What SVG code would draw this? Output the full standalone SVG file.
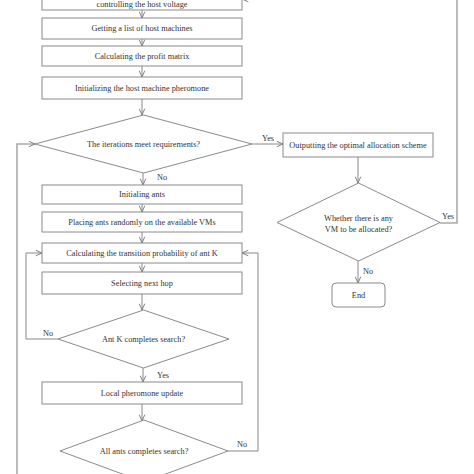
<svg xmlns="http://www.w3.org/2000/svg" width="474" height="474" viewBox="0 0 474 474">
<defs>
<marker id="arr" viewBox="0 0 10 10" refX="10" refY="5" markerWidth="7" markerHeight="7" markerUnits="userSpaceOnUse" orient="auto">
<path d="M1,1 L10,5 L1,9" fill="none" stroke="#777" stroke-width="1.3"/>
</marker>
</defs>
<style>
.box{fill:#fff;stroke:#8a8a8a;stroke-width:1}
.dia{fill:#fff;stroke:#8a8a8a;stroke-width:1}
.t{font-family:"Liberation Serif","Times New Roman",serif;font-size:8.3px;fill:#333;text-anchor:middle;dominant-baseline:central}
.lbl{font-family:"Liberation Serif","Times New Roman",serif;font-size:8.3px;fill:#333;dominant-baseline:central}
.c{fill:none;stroke:#888;stroke-width:1;marker-end:url(#arr)}
.loop{fill:none;stroke:#aaa;stroke-width:1.6}
</style>
<rect width="474" height="474" fill="#fff"/>
<g id="connectors">
<path class="loop" d="M440,223 H457 V-1 H250"/>
<path class="c" d="M250,-1 H242"/>
<path class="c" d="M142,10 V18"/>
<path class="c" d="M142,39 V46"/>
<path class="c" d="M142,66 V77"/>
<path class="c" d="M142,99 V115"/>
<path class="c" d="M252,144 H283"/>
<path class="c" d="M143,173 V185"/>
<path class="c" d="M142,204 V212"/>
<path class="c" d="M142,232 V243"/>
<path class="c" d="M142,263 V272"/>
<path class="c" d="M142,294 V310"/>
<path class="c" d="M58,339 H26 V253 H42"/>
<path class="c" d="M143,368 V382"/>
<path class="c" d="M142,404 V421"/>
<path class="c" d="M228,451 H258 V253 H242"/>
<path class="loop" d="M17,480 V144 H28"/>
<path class="c" d="M28,144 H35"/>
<path class="c" d="M358,157 V183"/>
<path class="c" d="M358,261 V283"/>
<text class="lbl" x="262" y="138">Yes</text>
<text class="lbl" x="157" y="177">No</text>
<text class="lbl" x="43" y="333">No</text>
<text class="lbl" x="157" y="375">Yes</text>
<text class="lbl" x="237" y="444">No</text>
<text class="lbl" x="442" y="216">Yes</text>
<text class="lbl" x="363" y="271">No</text>
</g>
<g id="n1"><rect class="box" x="42" y="-20" width="200" height="30"/><text class="t" x="142" y="4">controlling the host voltage</text></g>
<g id="n2"><rect class="box" x="42" y="18" width="200" height="21"/><text class="t" x="142" y="28.5">Getting a list of host machines</text></g>
<g id="n3"><rect class="box" x="42" y="46" width="200" height="20"/><text class="t" x="142" y="56">Calculating the profit matrix</text></g>
<g id="n4"><rect class="box" x="42" y="77" width="200" height="22"/><text class="t" x="142" y="88">Initializing the host machine pheromone</text></g>
<g id="d1"><polygon class="dia" points="143.5,115 252,144 143.5,173 35,144"/><text class="t" x="143.5" y="144">The iterations meet requirements?</text></g>
<g id="n5"><rect class="box" x="42" y="185" width="200" height="19"/><text class="t" x="142" y="194.5">Initialing ants</text></g>
<g id="n6"><rect class="box" x="42" y="212" width="200" height="20"/><text class="t" x="142" y="222">Placing ants randomly on the available VMs</text></g>
<g id="n7"><rect class="box" x="42" y="243" width="200" height="20"/><text class="t" x="142" y="253">Calculating the transition probability of ant K</text></g>
<g id="n8"><rect class="box" x="42" y="272" width="200" height="22"/><text class="t" x="142" y="283">Selecting next hop</text></g>
<g id="d2"><polygon class="dia" points="143.5,310 229,339 143.5,368 58,339"/><text class="t" x="143.5" y="339">Ant K completes search?</text></g>
<g id="n9"><rect class="box" x="42" y="382" width="200" height="22"/><text class="t" x="142" y="393">Local pheromone update</text></g>
<g id="d3"><polygon class="dia" points="144,420 228,451 144,482 60,451"/><text class="t" x="144" y="451">All ants completes search?</text></g>
<g id="n10"><rect class="box" x="283" y="133" width="150" height="24"/><text class="t" x="358" y="145">Outputting the optimal allocation scheme</text></g>
<g id="d4"><polygon class="dia" points="358.5,183 440,222.5 358.5,261 277,222.5"/><text class="t" x="358.5" y="218">Whether there is any</text><text class="t" x="358.5" y="229">VM to be allocated?</text></g>
<g id="end"><rect class="box" x="332" y="283" width="53" height="24" rx="4"/><text class="t" x="358.5" y="295">End</text></g>
</svg>
